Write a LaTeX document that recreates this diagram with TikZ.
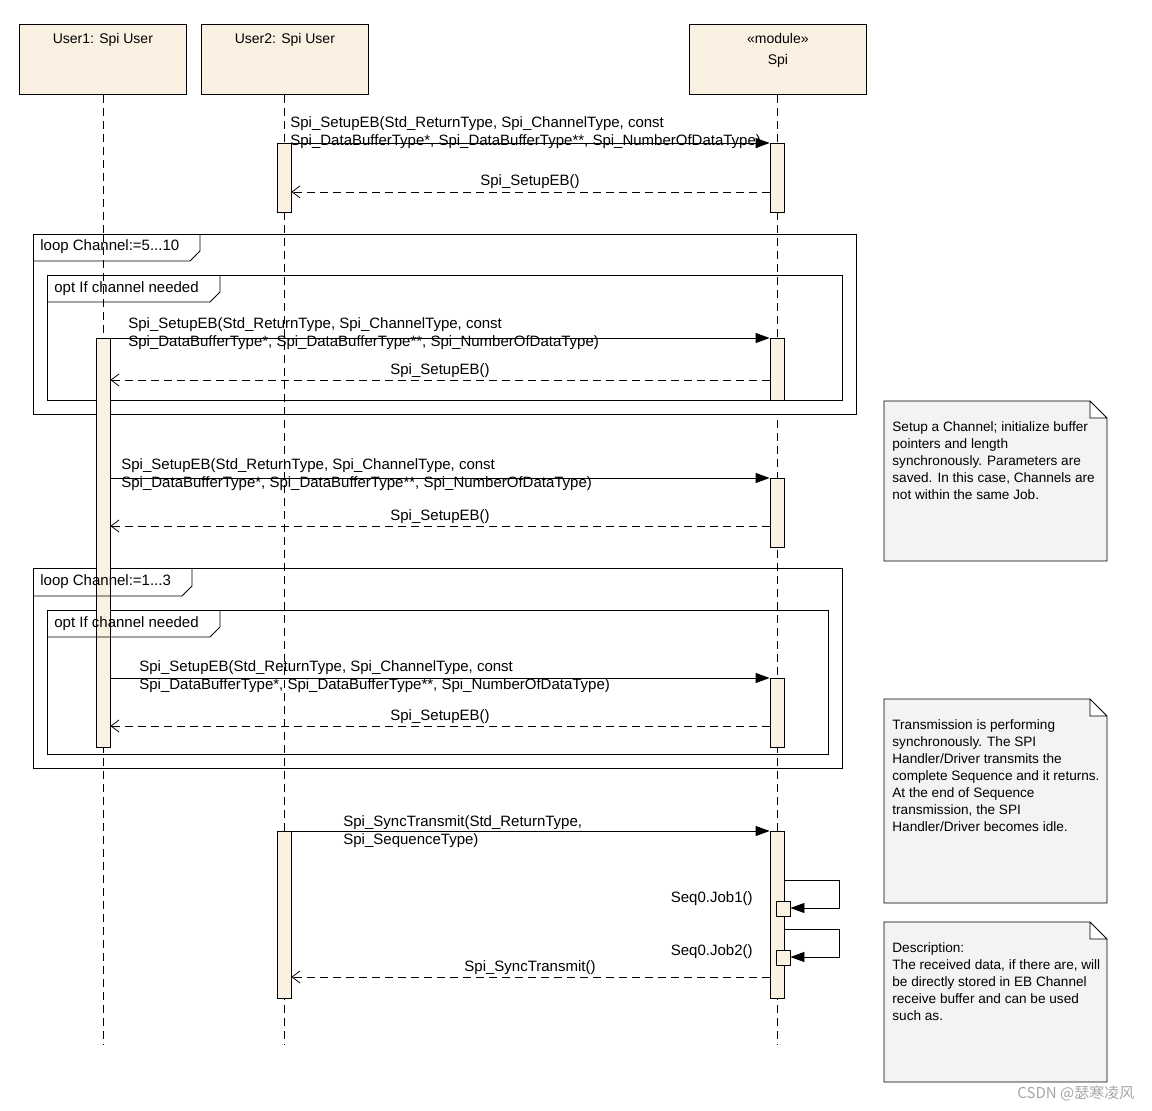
\documentclass[tikz,border=0pt]{standalone}
\usepackage{fontspec}
\setmainfont{Liberation Sans}
\newfontfamily\cjkfont{Noto Sans CJK SC}
\usepackage{xcolor}
\usetikzlibrary{arrows.meta, positioning, calc}
\definecolor{headcolor}{HTML}{FBF1E3}
\definecolor{notecolor}{HTML}{F3F2F4}
\tikzstyle{head} = [rectangle, draw, fill=headcolor, minimum width=167pt, minimum height=70pt, anchor=north west, inner sep=0pt]
\tikzstyle{bar} = [rectangle, draw, fill=headcolor, minimum width=14pt, anchor=north, inner sep=0pt]
\tikzstyle{life} = [dashed, dash pattern=on 8pt off 5pt]
\tikzstyle{msg} = [-{Triangle[length=14pt,width=10pt]}]
\tikzstyle{ret} = [-{Straight Barb[length=8pt,width=12pt]}, dash pattern=on 8pt off 5pt]
\tikzstyle{lbl} = [anchor=north west, align=left, inner sep=0pt, font=\fontsize{15}{18}\selectfont]
\tikzstyle{frame} = [draw, thick]
\tikzstyle{note} = [draw, fill=notecolor]
\begin{document}
\begin{tikzpicture}[x=1pt, y=-1pt, line width=0.8pt]
    \useasboundingbox (0,0) rectangle (1152,1111);
    % Lifelines
    \node[head] (user1) at (19,24) {};
    \node[font=\fontsize{14}{15}\selectfont, anchor=north] at (user1.north) [yshift=-6pt] {User1: Spi User};
    \node[head] (user2) at (201,24) {};
    \node[font=\fontsize{14}{15}\selectfont, anchor=north] at (user2.north) [yshift=-6pt] {User2: Spi User};
    \node[head, minimum width=177pt] (spi) at (689,24) {};
    \node[font=\fontsize{14}{21}\selectfont, anchor=north, align=center] at (spi.north) [yshift=-6pt] {«module»\\Spi};
    \coordinate (u1end) at (103,1045);
    \coordinate (u2end) at (284,1045);
    \coordinate (spiend) at (777,1045);
    \draw[life] (user1.south -| u1end) -- (u1end);
    \draw[life] (user2.south -| u2end) -- (u2end);
    \draw[life] (spi.south -| spiend) -- (spiend);

    % Frames
    \draw[frame, fill=white] (33,234) rectangle (856,414);
    \draw[frame] (47,275) rectangle (842,400);
    \draw[frame] (33,568) rectangle (842,768);
    \draw[frame] (47,610) rectangle (828,754);
    \draw[life] (103,234) -- (103,338);
    \draw[life] (284,212) -- (284,831);
    \draw[life] (777,212) -- (777,338);

    % Activations
    \node[bar, minimum height=69pt] (u2a) at (284,143) {};
    \node[bar, minimum height=69pt] (spia) at (777,143) {};
    \node[bar, minimum height=409pt] (u1a) at (103,338) {};
    \node[bar, minimum height=62pt] (spib) at (777,338) {};
    \node[bar, minimum height=69pt] (spic) at (777,478) {};
    \node[bar, minimum height=69pt] (spid) at (777,678) {};
    \node[bar, minimum height=167pt] (u2b) at (284,831) {};
    \node[bar, minimum height=167pt] (spie) at (777,831) {};

    % Frame tabs
    \draw[frame] (33,261) -- (190,261) -- (200,251) -- (200,234);
    \node[lbl] at (40,239) {loop Channel:=5...10};
    \draw[frame] (47,302) -- (210,302) -- (220,292) -- (220,275);
    \node[lbl] at (54,281) {opt If channel needed};
    \draw[frame] (33,596) -- (182,596) -- (192,586) -- (192,568);
    \node[lbl] at (40,574) {loop Channel:=1...3};
    \draw[frame] (47,637) -- (210,637) -- (220,627) -- (220,610);
    \node[lbl] at (54,616) {opt If channel needed};

    % Setup messages
    \draw[msg] (u2a.north east) -- (spia.north west);
    \node[lbl] at (290,116) {Spi\_SetupEB(Std\_ReturnType, Spi\_ChannelType, const\\Spi\_DataBufferType*, Spi\_DataBufferType**, Spi\_NumberOfDataType)};
    \draw[ret] ($(spia.west)+(0,14)$) -- ($(u2a.east)+(0,14)$);
    \node[lbl, anchor=south] at (530,189) {Spi\_SetupEB()};

    \draw[msg] (u1a.east |- spib.north) -- (spib.north west);
    \node[lbl] at (128,317) {Spi\_SetupEB(Std\_ReturnType, Spi\_ChannelType, const\\Spi\_DataBufferType*, Spi\_DataBufferType**, Spi\_NumberOfDataType)};
    \draw[ret] (spib.west |- 0,380) -- (u1a.east |- 0,380);
    \node[lbl, anchor=south] at (440,378) {Spi\_SetupEB()};

    \draw[msg] (u1a.east |- spic.north) -- (spic.north west);
    \node[lbl] at (121,458) {Spi\_SetupEB(Std\_ReturnType, Spi\_ChannelType, const\\Spi\_DataBufferType*, Spi\_DataBufferType**, Spi\_NumberOfDataType)};
    \draw[ret] (spic.west |- 0,526) -- (u1a.east |- 0,526);
    \node[lbl, anchor=south] at (440,524) {Spi\_SetupEB()};

    \draw[msg] (u1a.east |- spid.north) -- (spid.north west);
    \node[lbl] at (139,660) {Spi\_SetupEB(Std\_ReturnType, Spi\_ChannelType, const\\Spi\_DataBufferType*, Spi\_DataBufferType**, Spi\_NumberOfDataType)};
    \draw[ret] (spid.west |- 0,726) -- (u1a.east |- 0,726);
    \node[lbl, anchor=south] at (440,724) {Spi\_SetupEB()};

    % Transmit
    \draw[msg] (u2b.north east) -- (spie.north west);
    \node[lbl] at (343,815) {Spi\_SyncTransmit(Std\_ReturnType,\\Spi\_SequenceType)};
    \node[bar, minimum height=15pt] (job1) at (783,901) {};
    \node[bar, minimum height=15pt] (job2) at (783,950) {};
    \draw[msg] (spie.east |- 0,880) -- (839,880) -- (839,908) -- (job1.east |- 0,908);
    \draw[msg] (spie.east |- 0,929) -- (839,929) -- (839,957) -- (job2.east |- 0,957);
    \node[lbl, anchor=east] at (753,899) {Seq0.Job1()};
    \node[lbl, anchor=east] at (753,952) {Seq0.Job2()};
    \draw[ret] (spie.west |- 0,977) -- (u2b.east |- 0,977);
    \node[lbl, anchor=south] at (530,975) {Spi\_SyncTransmit()};

    % Notes
    \foreach \ny/\nh in {401/160, 699/204, 922/160}
        \draw[note] (884,\ny) -- (1090,\ny) -- (1107,\ny+17) -- (1107,\ny+\nh) -- (884,\ny+\nh) -- cycle
            (1090,\ny) -- (1090,\ny+17) -- (1107,\ny+17);
    \node[lbl, font=\fontsize{13.6}{17}\selectfont] (note1) at (892,421) {Setup a Channel; initialize buffer\\pointers and length\\synchronously. Parameters are\\saved. In this case, Channels are\\not within the same Job.};
    \node[lbl, font=\fontsize{13.6}{17}\selectfont] (note2) at (892,719) {Transmission is performing\\synchronously. The SPI\\Handler/Driver transmits the\\complete Sequence and it returns.\\At the end of Sequence\\transmission, the SPI\\Handler/Driver becomes idle.};
    \node[lbl, font=\fontsize{13.6}{17}\selectfont] (note3) at (892,942) {Description:\\The received data, if there are, will\\be directly stored in EB Channel\\receive buffer and can be used\\such as.};
    \node[anchor=east, text=gray!70, font=\cjkfont\fontsize{15}{16}\selectfont] (mark) at (1138,1093) {CSDN @瑟寒凌风};
\end{tikzpicture}
\end{document}
